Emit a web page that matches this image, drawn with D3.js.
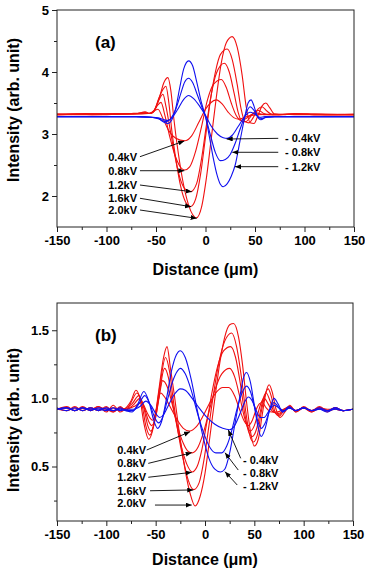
<!DOCTYPE html>
<html><head><meta charset="utf-8">
<script src="https://cdn.jsdelivr.net/npm/d3@7"></script>
<style>body{margin:0;background:#fff}svg{display:block}</style>
</head><body>
<svg id="c" width="365" height="571"></svg>
<script>
// ---------- DATA ----------
const xTickVals = [-150,-100,-50,0,50,100,150];
const xMinorVals = [-125,-75,-25,25,75,125];
const aYTickVals = [2,3,4,5];
const aYTickLabels = ["2","3","4","5"];
const aYMinorVals = [2.5,3.5,4.5];
const bYTickVals = [0.5,1.0,1.5];
const bYTickLabels = ["0.5","1.0","1.5"];
const bYMinorVals = [0.25,0.75,1.25];
const redLabels = ["0.4kV","0.8kV","1.2kV","1.6kV","2.0kV"];
const blueLabels = ["- 0.4kV","- 0.8kV","- 1.2kV"];

// panel (a) red: 0.4, 0.8, 1.2, 1.6, 2.0 kV
const aRed04 = [[-150,3.32],[-120,3.33],[-90,3.32],[-70,3.33],[-60,3.33],[-55,3.34],[-51,3.38],[-48,3.40],[-43,3.25],[-37,3.05],[-30,2.93],[-21,2.89],[-14,2.97],[-7,3.18],[0,3.40],[5,3.50],[11,3.55],[17,3.48],[23,3.35],[29,3.26],[34,3.24],[40,3.27],[46,3.30],[52,3.31],[70,3.32],[100,3.31],[150,3.31]];
const aRed08 = [[-150,3.31],[-120,3.32],[-90,3.33],[-70,3.32],[-58,3.33],[-53,3.35],[-49,3.45],[-45,3.51],[-41,3.30],[-36,2.95],[-30,2.62],[-25,2.46],[-21,2.42],[-16,2.47],[-10,2.72],[-4,3.12],[2,3.55],[8,3.80],[16,3.88],[21,3.75],[26,3.50],[31,3.30],[36,3.22],[41,3.25],[46,3.31],[51,3.34],[56,3.32],[62,3.31],[90,3.32],[120,3.31],[150,3.32]];
const aRed12 = [[-150,3.32],[-120,3.31],[-90,3.32],[-70,3.33],[-60,3.34],[-55,3.33],[-51,3.40],[-47,3.55],[-43,3.64],[-40,3.45],[-36,3.10],[-31,2.65],[-26,2.30],[-21,2.12],[-15,2.07],[-9,2.20],[-4,2.60],[1,3.15],[6,3.65],[11,3.98],[19,4.14],[24,4.00],[29,3.65],[33,3.35],[37,3.20],[41,3.20],[45,3.27],[50,3.36],[54,3.38],[59,3.33],[65,3.31],[90,3.32],[120,3.32],[150,3.31]];
const aRed16 = [[-150,3.31],[-120,3.32],[-90,3.32],[-70,3.33],[-62,3.35],[-57,3.33],[-52,3.38],[-47,3.58],[-43,3.72],[-40,3.77],[-37,3.50],[-34,3.05],[-30,2.60],[-25,2.15],[-20,1.90],[-15,1.83],[-10,1.95],[-5,2.35],[0,2.95],[5,3.55],[10,4.00],[15,4.28],[22,4.37],[27,4.20],[32,3.80],[36,3.40],[40,3.20],[44,3.18],[48,3.26],[53,3.40],[57,3.44],[62,3.37],[68,3.31],[90,3.32],[120,3.31],[150,3.31]];
const aRed20 = [[-150,3.31],[-130,3.32],[-110,3.31],[-90,3.32],[-75,3.33],[-66,3.34],[-61,3.36],[-56,3.33],[-51,3.40],[-46,3.62],[-42,3.83],[-38,3.91],[-35,3.70],[-32,3.25],[-28,2.75],[-23,2.25],[-17,1.85],[-9,1.65],[-4,1.82],[1,2.30],[6,2.95],[11,3.60],[16,4.15],[21,4.47],[27,4.57],[32,4.40],[37,3.95],[41,3.45],[45,3.18],[49,3.17],[53,3.30],[57,3.45],[61,3.50],[65,3.42],[70,3.32],[78,3.31],[90,3.33],[110,3.32],[130,3.31],[150,3.31]];
// panel (a) blue: -0.4, -0.8, -1.2 kV
const aBlue04 = [[-150,3.28],[-120,3.28],[-90,3.28],[-70,3.28],[-55,3.27],[-48,3.26],[-42,3.23],[-38,3.22],[-33,3.28],[-28,3.40],[-22,3.56],[-17,3.62],[-12,3.57],[-6,3.45],[0,3.30],[6,3.12],[12,3.00],[18,2.94],[22,2.93],[27,2.98],[33,3.12],[39,3.27],[45,3.35],[50,3.32],[55,3.27],[60,3.28],[90,3.28],[120,3.28],[150,3.28]];
const aBlue08 = [[-150,3.28],[-120,3.28],[-90,3.28],[-70,3.28],[-55,3.27],[-47,3.25],[-43,3.21],[-39,3.20],[-35,3.25],[-30,3.40],[-25,3.65],[-21,3.84],[-17,3.90],[-13,3.83],[-8,3.62],[-4,3.45],[0,3.28],[5,2.98],[10,2.70],[15,2.57],[20,2.59],[25,2.67],[30,2.85],[35,3.08],[40,3.30],[45,3.44],[49,3.38],[53,3.27],[57,3.25],[62,3.27],[70,3.28],[100,3.28],[150,3.28]];
const aBlue12 = [[-150,3.28],[-120,3.28],[-90,3.28],[-70,3.28],[-55,3.27],[-47,3.24],[-42,3.19],[-38,3.17],[-34,3.23],[-30,3.42],[-26,3.75],[-22,4.05],[-17,4.18],[-13,4.10],[-9,3.85],[-4,3.50],[0,3.28],[4,2.95],[8,2.60],[12,2.32],[15,2.19],[18,2.15],[22,2.20],[26,2.32],[30,2.50],[35,2.90],[40,3.30],[43,3.50],[46,3.55],[49,3.45],[52,3.30],[56,3.23],[61,3.27],[70,3.28],[90,3.28],[120,3.28],[150,3.28]];

// panel (b) red
const bRed04 = [[-150,.92],[-140,.93],[-132,.91],[-124,.93],[-116,.91],[-108,.93],[-100,.92],[-93,.90],[-86,.93],[-80,.92],[-72,.94],[-64,.97],[-59,.90],[-55,.85],[-53,.84],[-49,.93],[-45,1.04],[-40,1.00],[-34,.92],[-28,.84],[-22,.78],[-15.6,.76],[-9,.79],[-2,.87],[5,.97],[12,1.05],[18,1.08],[24,1.08],[30,1.02],[35,.92],[40,.83],[44,.80],[48,.84],[52,.92],[55,.96],[58,.97],[62,.93],[67,.90],[73,.90],[80,.92],[86,.93],[92,.91],[100,.93],[108,.91],[116,.93],[124,.92],[132,.92],[140,.91],[150,.92]];
const bRed08 = [[-150,.92],[-140,.91],[-132,.93],[-124,.91],[-116,.93],[-108,.91],[-100,.93],[-93,.91],[-86,.93],[-80,.92],[-73,.95],[-66,1.00],[-61,.92],[-57,.83],[-54,.80],[-49,.90],[-46,1.03],[-43,1.13],[-38,1.08],[-33,.95],[-28,.80],[-22,.67],[-17,.61],[-13,.60],[-8,.63],[-2,.74],[4,.90],[10,1.06],[17,1.18],[25,1.22],[30,1.16],[35,1.02],[40,.86],[43,.79],[46,.76],[50,.80],[54,.90],[57,.97],[60,1.00],[64,.96],[69,.90],[75,.89],[80,.92],[86,.93],[92,.91],[100,.93],[108,.91],[116,.93],[124,.91],[132,.92],[140,.91],[150,.92]];
const bRed12 = [[-150,.92],[-140,.93],[-132,.91],[-124,.93],[-116,.92],[-108,.94],[-100,.91],[-93,.93],[-86,.91],[-80,.93],[-74,.96],[-67,1.02],[-62,.93],[-58,.80],[-55,.76],[-50,.86],[-46,1.05],[-41,1.22],[-37,1.15],[-33,.97],[-28,.78],[-23,.62],[-18,.51],[-13,.46],[-8,.50],[-3,.63],[2,.83],[7,1.04],[13,1.24],[19,1.35],[26,1.38],[31,1.30],[36,1.10],[40,.90],[44,.76],[48,.72],[52,.77],[56,.90],[59,1.00],[62,1.04],[66,.98],[70,.90],[75,.88],[80,.92],[86,.94],[92,.91],[100,.93],[108,.90],[116,.93],[124,.91],[132,.93],[140,.91],[150,.92]];
const bRed16 = [[-150,.93],[-140,.91],[-132,.94],[-124,.91],[-116,.93],[-108,.91],[-100,.94],[-93,.90],[-86,.94],[-80,.91],[-75,.97],[-69,1.04],[-64,.96],[-60,.80],[-56,.73],[-51,.84],[-46,1.08],[-40,1.30],[-36,1.20],[-32,.98],[-27,.74],[-22,.55],[-17,.40],[-11.5,.33],[-6,.38],[-1,.55],[4,.80],[9,1.05],[14,1.26],[20,1.42],[27,1.48],[32,1.38],[37,1.15],[41,.92],[45,.74],[49,.68],[53,.73],[57,.90],[61,1.03],[64,1.07],[67,1.02],[71,.90],[75,.87],[80,.91],[86,.94],[92,.90],[100,.93],[108,.90],[116,.93],[124,.90],[132,.93],[140,.91],[150,.92]];
const bRed20 = [[-150,.92],[-140,.94],[-132,.91],[-124,.94],[-116,.91],[-108,.94],[-100,.90],[-93,.95],[-86,.90],[-80,.93],[-75,.98],[-70,1.06],[-66,1.00],[-62,.82],[-57,.70],[-52,.80],[-47,1.05],[-42,1.30],[-38.5,1.38],[-35,1.22],[-31,1.02],[-27,.80],[-23,.60],[-19,.43],[-15,.30],[-10,.21],[-5,.28],[0,.45],[5,.72],[10,1.00],[15,1.26],[20,1.45],[25,1.54],[29,1.55],[34,1.45],[38,1.25],[42,.98],[46,.76],[50,.65],[54,.70],[58,.88],[62,1.05],[65,1.10],[68,1.05],[72,.92],[76,.86],[81,.90],[86,.95],[92,.90],[100,.94],[108,.91],[116,.94],[124,.91],[132,.93],[140,.91],[150,.92]];
// panel (b) blue
const bBlue04 = [[-150,.92],[-140,.93],[-132,.91],[-124,.93],[-116,.92],[-108,.92],[-100,.91],[-93,.93],[-86,.91],[-80,.92],[-72,.92],[-66,.94],[-60,.98],[-55,.95],[-50,.89],[-46,.86],[-42,.88],[-37,.95],[-31,1.03],[-25,1.07],[-20,1.06],[-13,1.00],[-6,.93],[2,.86],[10,.81],[18,.78],[25,.77],[30,.80],[35,.88],[40,.97],[44,1.01],[48,.98],[52,.91],[56,.86],[60,.86],[65,.91],[70,.95],[75,.93],[80,.91],[86,.93],[92,.91],[100,.93],[108,.91],[116,.92],[124,.91],[132,.92],[140,.91],[150,.92]];
const bBlue08 = [[-150,.93],[-140,.91],[-132,.93],[-124,.91],[-116,.93],[-108,.91],[-100,.93],[-93,.91],[-86,.92],[-80,.91],[-73,.91],[-67,.96],[-61,1.02],[-56,.96],[-51,.86],[-47,.82],[-43,.86],[-38,.99],[-33,1.12],[-28,1.20],[-25,1.22],[-20,1.18],[-14,1.06],[-8,.90],[-2,.76],[5,.64],[11,.60],[17,.60],[22,.65],[27,.76],[32,.91],[37,1.03],[42,1.09],[46,1.05],[50,.94],[54,.82],[57,.78],[61,.82],[66,.92],[70,.97],[74,.94],[79,.90],[85,.93],[92,.91],[100,.93],[108,.91],[116,.92],[124,.90],[132,.93],[140,.91],[150,.92]];
const bBlue12 = [[-150,.92],[-140,.93],[-132,.91],[-124,.93],[-116,.91],[-108,.93],[-100,.92],[-93,.91],[-86,.93],[-80,.91],[-74,.90],[-68,.96],[-62,1.05],[-57,.98],[-52,.84],[-48,.78],[-44,.83],[-39,1.00],[-34,1.20],[-29,1.32],[-25,1.35],[-20,1.30],[-14,1.14],[-8,.92],[-2,.72],[4,.56],[10,.48],[15.5,.46],[20,.48],[25,.60],[30,.80],[35,1.00],[39,1.15],[42,1.19],[46,1.12],[50,.95],[54,.78],[57,.72],[61,.78],[66,.93],[70,1.00],[74,.96],[79,.90],[85,.94],[92,.91],[100,.93],[108,.91],[116,.93],[124,.91],[132,.93],[140,.91],[150,.92]];

// annotation anchors (data units)
const aRedArrowFrom = [[-66.2,2.634],[-66.2,2.408],[-66.2,2.177],[-66.2,1.963],[-66.2,1.774]];
const aRedArrowTo   = [[-21.4,2.887],[-21.4,2.408],[-13.9,2.069],[-14.6,1.827],[-8.9,1.64]];
const aBlueArrowFrom = [[73.5,2.93],[73.5,2.705],[73.5,2.473]];
const aBlueArrowTo   = [[21.4,2.919],[27.1,2.705],[29.8,2.473]];
const bRedArrowFrom = [[-59.1,0.621],[-57.5,0.523],[-57.5,0.421],[-55.7,0.322],[-50.7,0.217]];
const bRedArrowTo   = [[-15.2,0.755],[-13.5,0.601],[-13.5,0.457],[-11.9,0.328],[-13.5,0.217]];
const bRedLabelY    = [0.621,0.523,0.421,0.322,0.234];
const bBlueArrowFrom = [[36.2,0.56],[33.7,0.474],[32.7,0.364]];
const bBlueArrowTo   = [[23.6,0.768],[20.3,0.601],[20.3,0.462]];
const bBlueLabelY    = [0.547,0.454,0.356];

// ---------- DRAW ----------
const svg = d3.select("#c");
const FONT = "'Liberation Sans', Arial, Helvetica, sans-serif";
const RED = "#f01010", BLUE = "#1010f0";

svg.append("defs").append("marker")
  .attr("id","ah").attr("markerUnits","userSpaceOnUse")
  .attr("markerWidth",7).attr("markerHeight",6)
  .attr("refX",6).attr("refY",2.5).attr("orient","auto")
  .append("path").attr("d","M0,0 L6,2.5 L0,5 Z").attr("fill","#000");

function panel(cfg){
  const x = d3.scaleLinear().domain([-150,150]).range([cfg.left, cfg.right]);
  const y = d3.scaleLinear().domain(cfg.ydom).range([cfg.bottom, cfg.top]);
  const g = svg.append("g");
  const clipId = "clip" + cfg.id;
  g.append("clipPath").attr("id",clipId).append("rect")
    .attr("x",cfg.left).attr("y",cfg.top).attr("width",cfg.right-cfg.left).attr("height",cfg.bottom-cfg.top);

  const line = d3.line().x(d=>x(d[0])).y(d=>y(d[1])).curve(d3.curveMonotoneX);
  const lg = g.append("g").attr("clip-path",`url(#${clipId})`);
  cfg.red.forEach(s=>lg.append("path").attr("d",line(s)).attr("fill","none").attr("stroke",RED).attr("stroke-width",1.1));
  cfg.blue.forEach(s=>lg.append("path").attr("d",line(s)).attr("fill","none").attr("stroke",BLUE).attr("stroke-width",1.1));

  // frame
  g.append("rect").attr("x",cfg.left).attr("y",cfg.top).attr("width",cfg.right-cfg.left).attr("height",cfg.bottom-cfg.top)
    .attr("fill","none").attr("stroke","#222").attr("stroke-width",1);

  // axes
  const xa = g.append("g").attr("transform",`translate(0,${cfg.bottom})`)
    .call(d3.axisBottom(x).tickValues(xTickVals).tickSize(5).tickPadding(4).tickFormat(d3.format("d")));
  g.append("g").attr("transform",`translate(0,${cfg.bottom})`)
    .call(d3.axisBottom(x).tickValues(xMinorVals).tickSize(3).tickFormat(""));
  const ya = g.append("g").attr("transform",`translate(${cfg.left},0)`)
    .call(d3.axisLeft(y).tickValues(cfg.yticks).tickSize(5).tickPadding(3).tickFormat((d,i)=>cfg.ylabels[i]));
  g.append("g").attr("transform",`translate(${cfg.left},0)`)
    .call(d3.axisLeft(y).tickValues(cfg.yminor).tickSize(3).tickFormat(""));
  g.selectAll(".domain").remove();
  g.selectAll(".tick line").attr("stroke","#222");
  g.selectAll(".tick text").attr("font-family",FONT).attr("font-weight","bold").attr("font-size",13).attr("fill","#000");
  xa.selectAll(".tick text").text(d=>d<0 ? "-"+Math.abs(d) : d);

  // labels
  g.append("text").attr("x",cfg.panelLabel[0]).attr("y",cfg.panelLabel[1])
    .attr("font-family",FONT).attr("font-weight","bold").attr("font-size",17).text(cfg.name);
  g.append("text").attr("transform",`translate(13,${cfg.ylabelY}) rotate(-90)`)
    .attr("text-anchor","middle").attr("dominant-baseline","central")
    .attr("font-family",FONT).attr("font-weight","bold").attr("font-size",16).text("Intensity (arb. unit)");
  g.append("text").attr("x",(cfg.left+cfg.right)/2).attr("y",cfg.xlabelY).attr("text-anchor","middle")
    .attr("font-family",FONT).attr("font-weight","bold").attr("font-size",16).text("Distance (\u03bcm)");

  // annotations
  const ann = g.append("g");
  cfg.redFrom.forEach((f,i)=>{
    const t = cfg.redTo[i];
    ann.append("line").attr("x1",x(f[0])).attr("y1",y(f[1])).attr("x2",x(t[0])).attr("y2",y(t[1]))
      .attr("stroke","#000").attr("stroke-width",0.9).attr("marker-end","url(#ah)");
    ann.append("text").attr("x",x(cfg.redTextX)).attr("y",y(cfg.redTextY[i])).attr("text-anchor","end")
      .attr("dominant-baseline","central").attr("font-family",FONT).attr("font-weight","bold").attr("font-size",11).text(redLabels[i]);
  });
  cfg.blueFrom.forEach((f,i)=>{
    const t = cfg.blueTo[i];
    ann.append("line").attr("x1",x(f[0])).attr("y1",y(f[1])).attr("x2",x(t[0])).attr("y2",y(t[1]))
      .attr("stroke","#000").attr("stroke-width",0.9).attr("marker-end","url(#ah)");
    ann.append("text").attr("x",x(cfg.blueTextX)).attr("y",y(cfg.blueTextY[i])).attr("text-anchor","start")
      .attr("dominant-baseline","central").attr("font-family",FONT).attr("font-weight","bold").attr("font-size",11).text(blueLabels[i]);
  });
}

panel({id:"a", name:"(a)", left:57, right:354, top:10, bottom:227, ydom:[1.5,5],
  yticks:aYTickVals, ylabels:aYTickLabels, yminor:aYMinorVals,
  red:[aRed04,aRed08,aRed12,aRed16,aRed20], blue:[aBlue04,aBlue08,aBlue12],
  panelLabel:[95,48], ylabelY:110, xlabelY:275,
  redFrom:aRedArrowFrom, redTo:aRedArrowTo, redTextX:-69.2, redTextY:aRedArrowFrom.map(d=>d[1]),
  blueFrom:aBlueArrowFrom, blueTo:aBlueArrowTo, blueTextX:80.3, blueTextY:aBlueArrowFrom.map(d=>d[1])});

panel({id:"b", name:"(b)", left:57, right:353, top:303, bottom:521, ydom:[0.1,1.7],
  yticks:bYTickVals, ylabels:bYTickLabels, yminor:bYMinorVals,
  red:[bRed04,bRed08,bRed12,bRed16,bRed20], blue:[bBlue04,bBlue08,bBlue12],
  panelLabel:[95,341], ylabelY:420, xlabelY:565,
  redFrom:bRedArrowFrom, redTo:bRedArrowTo, redTextX:-59.8, redTextY:bRedLabelY,
  blueFrom:bBlueArrowFrom, blueTo:bBlueArrowTo, blueTextX:38.5, blueTextY:bBlueLabelY});
</script>
</body></html>
